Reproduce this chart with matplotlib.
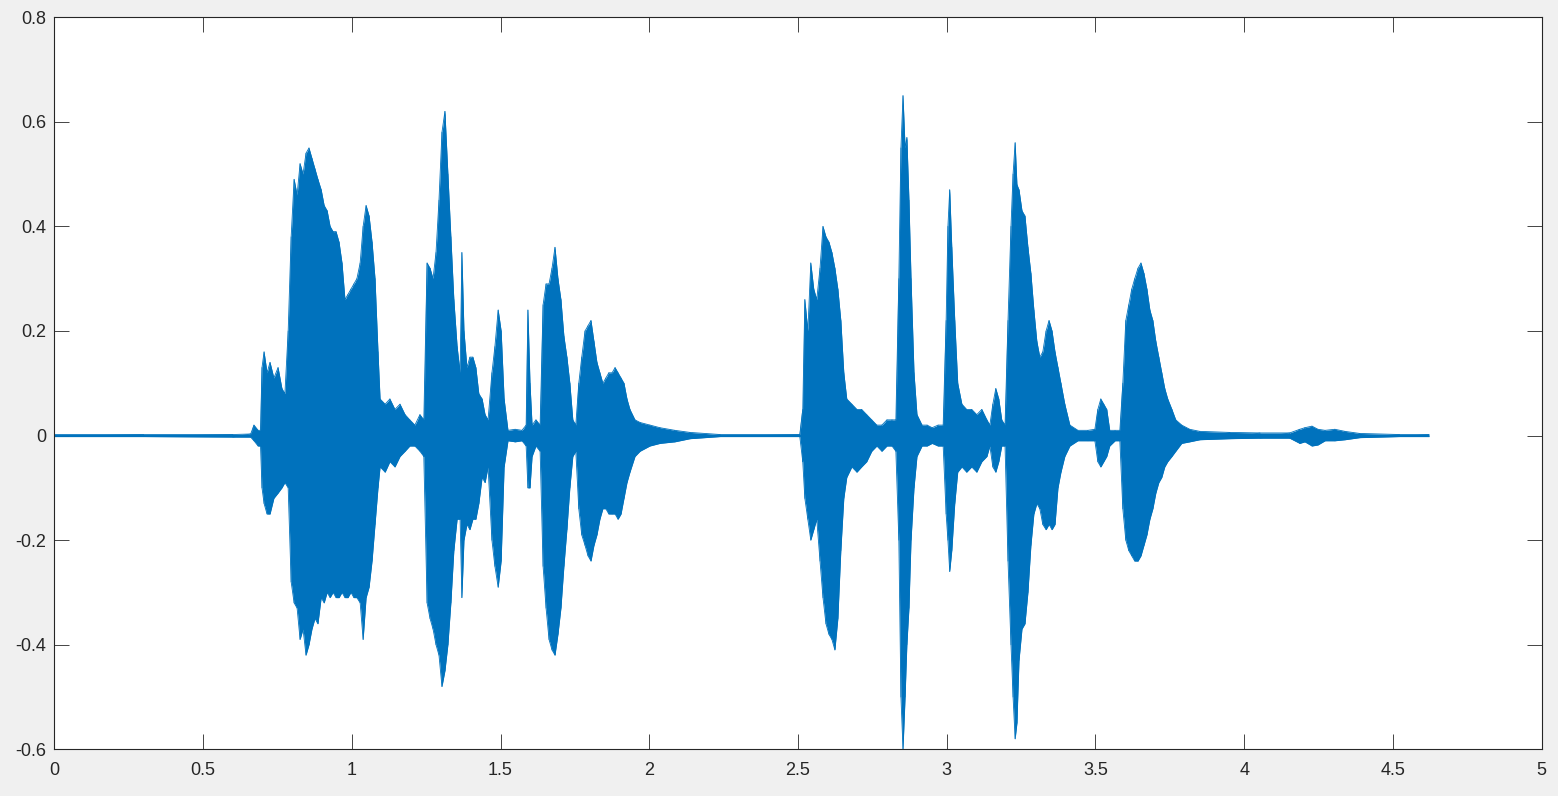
import matplotlib.pyplot as plt
from matplotlib.ticker import FuncFormatter
import numpy as np

plt.rcParams["font.family"] = ["Liberation Sans", "DejaVu Sans"]

# 波形包络：时间(s)、上包络、下包络
t_env = [0.000, 0.300, 0.600, 0.660, 0.671, 0.685, 0.693,
         0.698, 0.705, 0.715, 0.725, 0.738, 0.752, 0.765, 0.775, 0.786, 0.796,
         0.806, 0.816, 0.826, 0.836, 0.846, 0.856, 0.866, 0.876, 0.886, 0.897,
         0.907, 0.917, 0.927, 0.937, 0.947, 0.957, 0.967, 0.977, 0.987, 0.997,
         1.007, 1.017, 1.028, 1.038, 1.048, 1.058, 1.068, 1.078, 1.088, 1.095,
         1.112, 1.128, 1.145, 1.162, 1.179, 1.195, 1.212, 1.229, 1.242,
         1.253, 1.263, 1.273, 1.283, 1.293, 1.303, 1.313, 1.323, 1.333, 1.343,
         1.354, 1.364, 1.370, 1.377, 1.387, 1.397, 1.407, 1.417, 1.427, 1.438,
         1.448, 1.458, 1.471, 1.481, 1.492, 1.502, 1.512, 1.525, 1.549, 1.572,
         1.586, 1.592, 1.599, 1.606, 1.619, 1.633,
         1.643, 1.653, 1.663, 1.673, 1.683, 1.693, 1.703, 1.713, 1.723, 1.733,
         1.743, 1.753,
         1.763, 1.773, 1.784, 1.794, 1.804, 1.814, 1.824, 1.834, 1.844, 1.854,
         1.864, 1.875, 1.885, 1.895, 1.905, 1.915, 1.925, 1.935, 1.952, 1.969,
         2.002, 2.036, 2.086, 2.137, 2.238, 2.506,
         2.516, 2.523, 2.533, 2.543, 2.553, 2.563, 2.574, 2.584, 2.594, 2.604,
         2.614, 2.624, 2.634, 2.644, 2.654, 2.664, 2.681, 2.698, 2.714, 2.731,
         2.748, 2.765, 2.782, 2.799, 2.816, 2.829,
         2.839, 2.846, 2.853, 2.860, 2.866, 2.873, 2.880, 2.890, 2.900, 2.917,
         2.934, 2.951, 2.971, 2.988,
         2.998, 3.004, 3.010, 3.017, 3.027, 3.037, 3.051, 3.067, 3.084, 3.101,
         3.118, 3.135, 3.145, 3.155, 3.165, 3.175, 3.185, 3.196,
         3.206, 3.216, 3.223, 3.230, 3.236, 3.243, 3.253, 3.263, 3.273, 3.283,
         3.293, 3.303, 3.313, 3.323, 3.334, 3.344, 3.354, 3.364, 3.374, 3.384,
         3.397, 3.414, 3.441, 3.475, 3.498,
         3.508, 3.518, 3.528, 3.538, 3.548, 3.566, 3.582,
         3.592, 3.602, 3.612, 3.622, 3.632, 3.643, 3.653, 3.663, 3.673, 3.683,
         3.693, 3.703, 3.713, 3.723, 3.733, 3.743, 3.757, 3.770, 3.790, 3.817,
         3.851, 3.952, 4.053, 4.153,
         4.187, 4.204, 4.228, 4.248, 4.272, 4.305, 4.339, 4.389, 4.522, 4.621]

env_top = [0.002, 0.002, 0.002, 0.003, 0.02, 0.01, 0.01,
           0.13, 0.16, 0.12, 0.14, 0.11, 0.13, 0.09, 0.08, 0.20, 0.38,
           0.49, 0.46, 0.52, 0.50, 0.54, 0.55, 0.53, 0.51, 0.49, 0.47,
           0.44, 0.43, 0.40, 0.39, 0.39, 0.37, 0.33, 0.26, 0.27, 0.28,
           0.29, 0.30, 0.33, 0.40, 0.44, 0.42, 0.37, 0.30, 0.16, 0.07,
           0.06, 0.07, 0.05, 0.06, 0.04, 0.03, 0.02, 0.04, 0.03,
           0.33, 0.32, 0.30, 0.35, 0.45, 0.58, 0.62, 0.50, 0.38, 0.26,
           0.17, 0.12, 0.35, 0.20, 0.13, 0.15, 0.15, 0.13, 0.08, 0.07,
           0.04, 0.03, 0.12, 0.17, 0.24, 0.20, 0.07, 0.01, 0.012, 0.01,
           0.02, 0.24, 0.10, 0.02, 0.03, 0.02,
           0.25, 0.29, 0.29, 0.32, 0.36, 0.30, 0.26, 0.19, 0.15, 0.10,
           0.03, 0.02,
           0.10, 0.15, 0.20, 0.21, 0.22, 0.18, 0.14, 0.12, 0.10, 0.11,
           0.12, 0.12, 0.13, 0.12, 0.11, 0.10, 0.07, 0.05, 0.03, 0.025,
           0.02, 0.015, 0.01, 0.006, 0.002, 0.002,
           0.05, 0.26, 0.20, 0.33, 0.28, 0.26, 0.32, 0.40, 0.38, 0.37,
           0.35, 0.32, 0.28, 0.22, 0.12, 0.07, 0.06, 0.05, 0.05, 0.04,
           0.03, 0.02, 0.02, 0.03, 0.03, 0.03,
           0.30, 0.55, 0.65, 0.55, 0.57, 0.45, 0.30, 0.12, 0.04, 0.02,
           0.02, 0.015, 0.02, 0.02,
           0.22, 0.40, 0.47, 0.36, 0.22, 0.10, 0.06, 0.05, 0.05, 0.04,
           0.05, 0.03, 0.02, 0.06, 0.09, 0.07, 0.03, 0.02,
           0.22, 0.40, 0.50, 0.56, 0.48, 0.47, 0.43, 0.42, 0.36, 0.31,
           0.24, 0.18, 0.15, 0.16, 0.20, 0.22, 0.20, 0.16, 0.13, 0.10,
           0.06, 0.02, 0.01, 0.01, 0.012,
           0.05, 0.07, 0.06, 0.05, 0.01, 0.01, 0.01,
           0.10, 0.22, 0.25, 0.28, 0.30, 0.32, 0.33, 0.31, 0.28, 0.24,
           0.22, 0.18, 0.15, 0.12, 0.09, 0.07, 0.05, 0.03, 0.02, 0.012,
           0.008, 0.006, 0.005, 0.005,
           0.012, 0.015, 0.018, 0.012, 0.01, 0.012, 0.008, 0.004, 0.002, 0.002]

env_bot = [-0.002, -0.002, -0.003, -0.003, -0.01, -0.02, -0.02,
           -0.10, -0.13, -0.15, -0.15, -0.12, -0.11, -0.10, -0.09, -0.10, -0.28,
           -0.32, -0.33, -0.39, -0.37, -0.42, -0.40, -0.37, -0.35, -0.36, -0.31,
           -0.32, -0.30, -0.31, -0.30, -0.31, -0.31, -0.30, -0.31, -0.31, -0.30,
           -0.31, -0.31, -0.32, -0.39, -0.31, -0.29, -0.24, -0.17, -0.10, -0.06,
           -0.07, -0.05, -0.06, -0.04, -0.03, -0.02, -0.02, -0.03, -0.04,
           -0.32, -0.35, -0.37, -0.40, -0.42, -0.48, -0.45, -0.40, -0.32, -0.22,
           -0.16, -0.16, -0.31, -0.20, -0.17, -0.18, -0.16, -0.16, -0.13, -0.08,
           -0.09, -0.06, -0.20, -0.25, -0.29, -0.24, -0.06, -0.01, -0.012, -0.01,
           -0.02, -0.10, -0.10, -0.04, -0.02, -0.03,
           -0.25, -0.33, -0.39, -0.41, -0.42, -0.38, -0.33, -0.25, -0.18, -0.10,
           -0.04, -0.03,
           -0.14, -0.19, -0.21, -0.23, -0.24, -0.21, -0.19, -0.16, -0.14, -0.14,
           -0.15, -0.15, -0.15, -0.16, -0.15, -0.12, -0.09, -0.07, -0.04, -0.03,
           -0.02, -0.015, -0.012, -0.006, -0.002, -0.002,
           -0.05, -0.12, -0.16, -0.20, -0.18, -0.16, -0.24, -0.31, -0.36, -0.38,
           -0.39, -0.41, -0.35, -0.22, -0.12, -0.08, -0.06, -0.07, -0.06, -0.05,
           -0.03, -0.02, -0.03, -0.02, -0.02, -0.03,
           -0.20, -0.50, -0.60, -0.50, -0.40, -0.33, -0.20, -0.10, -0.04, -0.02,
           -0.02, -0.015, -0.02, -0.02,
           -0.15, -0.20, -0.26, -0.22, -0.13, -0.07, -0.06, -0.07, -0.06, -0.07,
           -0.05, -0.04, -0.02, -0.06, -0.07, -0.05, -0.02, -0.02,
           -0.24, -0.40, -0.50, -0.58, -0.55, -0.43, -0.37, -0.36, -0.30, -0.21,
           -0.15, -0.13, -0.14, -0.17, -0.18, -0.17, -0.18, -0.17, -0.10, -0.07,
           -0.04, -0.02, -0.01, -0.01, -0.01,
           -0.05, -0.06, -0.05, -0.04, -0.02, -0.01, -0.01,
           -0.14, -0.20, -0.22, -0.23, -0.24, -0.24, -0.23, -0.21, -0.19, -0.16,
           -0.14, -0.11, -0.09, -0.08, -0.06, -0.05, -0.04, -0.03, -0.015, -0.012,
           -0.008, -0.006, -0.005, -0.005,
           -0.015, -0.012, -0.02, -0.018, -0.01, -0.01, -0.008, -0.004, -0.002, -0.002]

x_ticks = [0, 0.5, 1, 1.5, 2, 2.5, 3, 3.5, 4, 4.5, 5]
y_ticks = [-0.6, -0.4, -0.2, 0, 0.2, 0.4, 0.6, 0.8]

line_color = "#0072BD"
axis_color = "#262626"


def main():
    t = np.array(t_env)
    top = np.array(env_top)
    bot = np.array(env_bot)

    fig = plt.figure(figsize=(15.58, 7.96), dpi=100, facecolor="#f0f0f0")
    ax = fig.add_axes([0.0349, 0.0587, 0.9546, 0.9196])
    ax.set_facecolor("white")

    # 包络填充 + 锯齿线，模拟密集的波形
    ax.fill_between(t, bot, top, color=line_color, lw=0)
    zz_t = np.repeat(t, 2)
    zz_v = np.column_stack([top, bot]).ravel()
    ax.plot(zz_t, zz_v, color=line_color, lw=0.6, alpha=0.8)
    ax.plot(t, top, color=line_color, lw=0.6)
    ax.plot(t, bot, color=line_color, lw=0.6)

    ax.set_xlim(0, 5)
    ax.set_ylim(-0.6, 0.8)
    ax.set_xticks(x_ticks)
    ax.set_yticks(y_ticks)
    ax.xaxis.set_major_formatter(FuncFormatter(lambda v, p: "%g" % v))
    ax.yaxis.set_major_formatter(FuncFormatter(lambda v, p: "%g" % round(v, 1)))

    for s in ax.spines.values():
        s.set_color(axis_color)
        s.set_linewidth(0.8)
    ax.tick_params(direction="in", length=10.5, width=0.6, colors=axis_color,
                   top=True, right=True, labelsize=13)
    ax.tick_params(axis="x", pad=9)
    ax.tick_params(axis="y", pad=6)

    fig.savefig("out.png", dpi=100, facecolor=fig.get_facecolor())


if __name__ == '__main__':
    main()
